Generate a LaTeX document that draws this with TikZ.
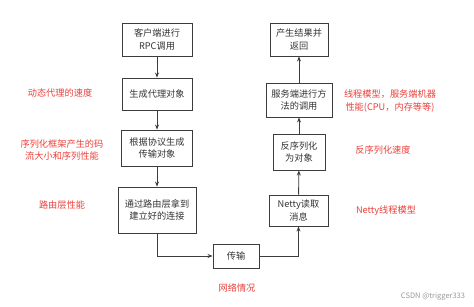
\documentclass[tikz,border=0pt]{standalone}
\usepackage{fontspec}
\setmainfont{Noto Sans CJK SC}
\usetikzlibrary{arrows.meta,positioning}
\definecolor{boxline}{RGB}{60,60,60}
\definecolor{notered}{RGB}{232,64,58}

\begin{document}
\begin{tikzpicture}[x=1pt,y=-1pt,>={Stealth[length=5pt,width=4pt]},
  every node/.style={font=\fontsize{9.2}{12.5}\selectfont,text=black!80},
  stepbox/.style={draw=boxline,line width=0.9pt,align=center,inner sep=1pt},
  note/.style={text=notered,align=center}]
  \useasboundingbox (0,0) rectangle (474,306);
  % client side
  \node[stepbox,minimum width=70pt,minimum height=33pt] (call) at (157,39.5) {客户端进行\\RPC调用};
  \node[stepbox,minimum width=70pt,minimum height=32pt] (proxy) at (157,94) {生成代理对象};
  \node[stepbox,minimum width=71pt,minimum height=36pt] (encode) at (157,148) {根据协议生成\\传输对象};
  \node[stepbox,minimum width=78pt,minimum height=46pt] (route) at (157,210) {通过路由层拿到\\建立好的连接};
  \node[stepbox,minimum width=46pt,minimum height=24pt] (trans) at (236,256) {传输};
  % server side
  \node[stepbox,minimum width=59pt,minimum height=31pt] (netty) at (298.5,210.5) {Netty读取\\消息};
  \node[stepbox,minimum width=52pt,minimum height=36pt] (decode) at (299,152) {反序列化\\为对象};
  \node[stepbox,minimum width=66pt,minimum height=34pt] (invoke) at (299,100) {服务端进行方\\法的调用};
  \node[stepbox,minimum width=58pt,minimum height=33pt] (result) at (299,39.5) {产生结果并\\返回};
  % notes
  \node[note] (n1) at (60,93) {动态代理的速度};
  \node[note] (n2) at (62,150) {序列化框架产生的码\\流大小和序列性能};
  \node[note] (n3) at (62,205) {路由层性能};
  \node[note] (n4) at (237,288) {网络情况};
  \node[note] (n5) at (390,101) {线程模型，服务端机器\\性能(CPU，内存等等)};
  \node[note] (n6) at (383,150) {反序列化速度};
  \node[note] (n7) at (386,211) {Netty线程模型};
  \node[font=\fontsize{7.5}{9}\selectfont,text=black!40] (mark) at (433,297) {CSDN @trigger333};
  \path[->,draw=boxline,line width=0.9pt]
    (call) edge (proxy)
    (proxy) edge (encode)
    (encode) edge (route)
    (netty) edge (decode)
    (decode) edge (invoke)
    (invoke) edge (result);
  \draw[->,boxline,line width=0.9pt] (route) |- (trans);
  \draw[->,boxline,line width=0.9pt] (trans) -| (netty);
\end{tikzpicture}
\end{document}
